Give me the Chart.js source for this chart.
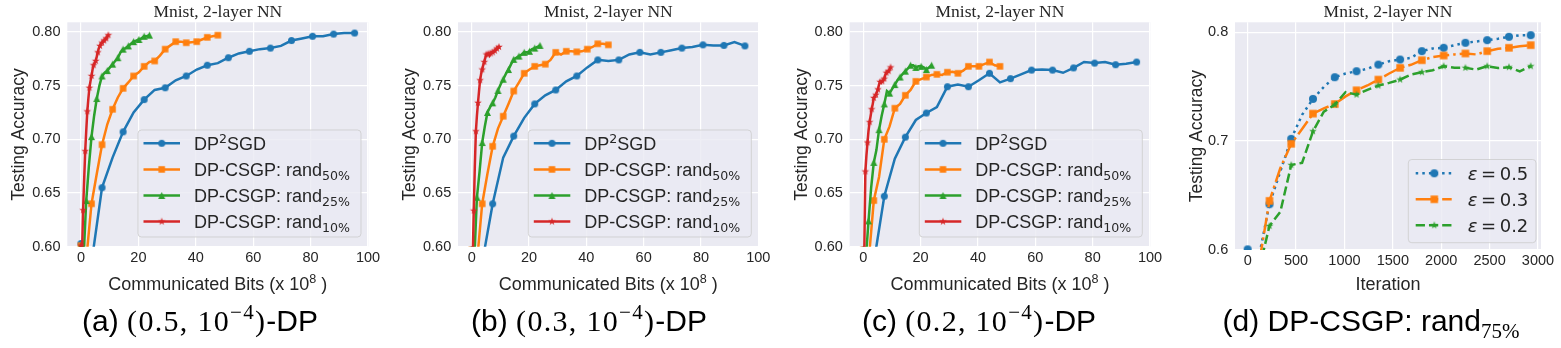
<!DOCTYPE html>
<html>
<head>
<meta charset="utf-8">
<script src="https://cdn.jsdelivr.net/npm/chart.js@4.4.1/dist/chart.umd.min.js"></script>
<style>
  html, body { margin: 0; padding: 0; background: #fff; }
  #fig { position: relative; width: 1561px; height: 348px; }
  #fig canvas { position: absolute; top: 0; }
</style>
</head>
<body>
<div id="fig">
  <canvas id="pa" width="390" height="348" style="left:0"></canvas>
  <canvas id="pb" width="390" height="348" style="left:390px"></canvas>
  <canvas id="pc" width="390" height="348" style="left:780px"></canvas>
  <canvas id="pd" width="391" height="348" style="left:1170px"></canvas>
</div>
<script>
// communicated bits (x 10^8) at each logged step, per compression level
const bitsFull = [0, 3.67, 7.33, 11, 14.67, 18.33, 22, 25.67, 29.33, 33, 36.67, 40.33, 44, 47.67, 51.33, 55, 58.67, 62.33, 66, 69.67, 73.33, 77, 80.67, 84.33, 88, 91.67, 95.33];
const bitsHalf = [0, 1.83, 3.67, 5.5, 7.33, 9.17, 11, 12.83, 14.67, 16.5, 18.33, 20.17, 22, 23.83, 25.67, 27.5, 29.33, 31.17, 33, 34.83, 36.67, 38.5, 40.33, 42.17, 44, 45.83, 47.67];
const bitsQuarter = [0, 0.92, 1.83, 2.75, 3.67, 4.58, 5.5, 6.42, 7.33, 8.25, 9.17, 10.08, 11, 11.92, 12.83, 13.75, 14.67, 15.58, 16.5, 17.42, 18.33, 19.25, 20.17, 21.08, 22, 22.92, 23.83];
const bitsTenth = [0, 0.37, 0.73, 1.1, 1.47, 1.83, 2.2, 2.57, 2.93, 3.3, 3.67, 4.03, 4.4, 4.77, 5.13, 5.5, 5.87, 6.23, 6.6, 6.97, 7.33, 7.7, 8.07, 8.43, 8.8, 9.17, 9.53];
const iterations = [0, 112, 225, 337, 450, 562, 675, 787, 900, 1012, 1125, 1237, 1350, 1462, 1575, 1687, 1800, 1912, 2025, 2137, 2250, 2362, 2475, 2587, 2700, 2812, 2925];

// testing accuracy, (0.5, 1e-4)-DP
const sgdA = [0.603, 0.585, 0.655, 0.683, 0.707, 0.725, 0.737, 0.746, 0.748, 0.755, 0.759, 0.765, 0.769, 0.771, 0.776, 0.780, 0.782, 0.784, 0.785, 0.787, 0.792, 0.794, 0.796, 0.796, 0.798, 0.799, 0.799];
const rand50A = [0.601, 0.588, 0.640, 0.668, 0.695, 0.714, 0.728, 0.739, 0.7475, 0.753, 0.759, 0.7625, 0.768, 0.772, 0.773, 0.778, 0.784, 0.7875, 0.791, 0.791, 0.790, 0.7905, 0.791, 0.793, 0.795, 0.796, 0.797];
const rand25A = [0.601, 0.590, 0.643, 0.675, 0.7025, 0.722, 0.738, 0.750, 0.759, 0.762, 0.764, 0.767, 0.770, 0.773, 0.776, 0.781, 0.784, 0.785, 0.787, 0.789, 0.791, 0.792, 0.793, 0.794, 0.796, 0.796, 0.797];
const rand10A = [0.601, 0.595, 0.634, 0.662, 0.689, 0.708, 0.726, 0.738, 0.748, 0.754, 0.759, 0.765, 0.769, 0.771, 0.773, 0.777, 0.781, 0.785, 0.787, 0.789, 0.790, 0.791, 0.792, 0.793, 0.794, 0.796, 0.797];

// testing accuracy, (0.3, 1e-4)-DP
const sgdB = [0.597, 0.585, 0.640, 0.683, 0.703, 0.720, 0.733, 0.741, 0.746, 0.754, 0.759, 0.767, 0.774, 0.773, 0.774, 0.779, 0.781, 0.779, 0.781, 0.783, 0.785, 0.786, 0.788, 0.7875, 0.7875, 0.7905, 0.787];
const rand50B = [0.597, 0.585, 0.640, 0.668, 0.6935, 0.710, 0.7215, 0.733, 0.745, 0.753, 0.7615, 0.765, 0.768, 0.769, 0.770, 0.774, 0.781, 0.779, 0.782, 0.782, 0.7815, 0.782, 0.784, 0.786, 0.789, 0.789, 0.788];
const rand25B = [0.597, 0.588, 0.646, 0.670, 0.697, 0.712, 0.725, 0.730, 0.734, 0.739, 0.7455, 0.751, 0.756, 0.761, 0.765, 0.770, 0.7745, 0.776, 0.7775, 0.779, 0.781, 0.781, 0.782, 0.784, 0.785, 0.786, 0.7875];
const rand10B = [0.597, 0.590, 0.6335, 0.675, 0.7075, 0.722, 0.734, 0.745, 0.755, 0.761, 0.765, 0.769, 0.772, 0.776, 0.779, 0.7795, 0.7797, 0.778, 0.780, 0.781, 0.781, 0.7815, 0.7825, 0.7835, 0.7845, 0.785, 0.786];

// testing accuracy, (0.2, 1e-4)-DP
const sgdC = [0.597, 0.585, 0.647, 0.682, 0.702, 0.718, 0.7245, 0.730, 0.749, 0.751, 0.749, 0.755, 0.7615, 0.753, 0.7565, 0.7605, 0.7645, 0.765, 0.7645, 0.762, 0.7665, 0.772, 0.771, 0.772, 0.7695, 0.7705, 0.772];
const rand50C = [0.597, 0.585, 0.643, 0.665, 0.700, 0.712, 0.729, 0.733, 0.741, 0.746, 0.754, 0.756, 0.758, 0.760, 0.7605, 0.760, 0.7625, 0.763, 0.7615, 0.764, 0.768, 0.768, 0.768, 0.770, 0.772, 0.769, 0.768];
const rand25C = [0.597, 0.590, 0.624, 0.655, 0.6785, 0.690, 0.709, 0.722, 0.733, 0.745, 0.743, 0.747, 0.751, 0.755, 0.758, 0.761, 0.7635, 0.766, 0.769, 0.769, 0.767, 0.768, 0.768, 0.767, 0.765, 0.767, 0.769];
const rand10C = [0.597, 0.600, 0.670, 0.685, 0.697, 0.708, 0.716, 0.722, 0.728, 0.733, 0.7385, 0.740, 0.7415, 0.744, 0.7465, 0.751, 0.7535, 0.753, 0.754, 0.755, 0.7565, 0.760, 0.762, 0.763, 0.7635, 0.765, 0.767];

// DP-CSGP rand75%, accuracy per iteration for each epsilon
const eps05 = [0.6006, 0.592, 0.642, 0.672, 0.702, 0.724, 0.7387, 0.7497, 0.7586, 0.762, 0.7641, 0.7663, 0.7702, 0.7733, 0.7748, 0.7764, 0.7825, 0.785, 0.7856, 0.788, 0.7902, 0.7914, 0.7926, 0.7939, 0.7957, 0.797, 0.7972];
const eps03 = [0.570, 0.585, 0.6451, 0.675, 0.6975, 0.711, 0.7252, 0.730, 0.734, 0.741, 0.7466, 0.751, 0.7564, 0.762, 0.7672, 0.770, 0.7742, 0.777, 0.7785, 0.7795, 0.7804, 0.7795, 0.7825, 0.7847, 0.7856, 0.787, 0.788];
const eps02 = [0.560, 0.580, 0.622, 0.635, 0.678, 0.680, 0.709, 0.727, 0.7334, 0.745, 0.7426, 0.747, 0.7509, 0.7534, 0.7564, 0.761, 0.7632, 0.765, 0.7687, 0.7672, 0.7672, 0.7656, 0.7687, 0.767, 0.7678, 0.764, 0.7687];

const bitsTicks = [0, 20, 40, 60, 80, 100];
const accTicks = [0.60, 0.65, 0.70, 0.75, 0.80];
const iterTicks = [0, 500, 1000, 1500, 2000, 2500, 3000];
const accTicksD = [0.6, 0.7, 0.8];

const BLUE = '#1f77b4', ORANGE = '#ff7f0e', GREEN = '#2ca02c', RED = '#d62728';
const INK = '#262626';
const SANS = '"Liberation Sans", Arial, sans-serif';
const SERIF = '"Liberation Serif", "Times New Roman", serif';
const MATH = '"DejaVu Sans", sans-serif';

// matplotlib-like filled markers, pre-rendered so lines and legend share them
function markerImage(kind, color, d) {
  const s = Math.ceil(d) + 4;
  const c = document.createElement('canvas');
  c.width = c.height = s;
  const g = c.getContext('2d');
  const m = s / 2, r = d / 2;
  g.fillStyle = color;
  g.beginPath();
  if (kind === 'circle') {
    g.arc(m, m, r, 0, Math.PI * 2);
  } else if (kind === 'square') {
    g.rect(m - r, m - r, d, d);
  } else if (kind === 'triangle') {
    g.moveTo(m, m - r);
    g.lineTo(m + r, m + r);
    g.lineTo(m - r, m + r);
  } else {
    for (let i = 0; i < 10; i++) {
      const rad = i % 2 ? r * 0.4 : r;
      const a = -Math.PI / 2 + i * Math.PI / 5;
      g.lineTo(m + rad * Math.cos(a), m + rad * Math.sin(a));
    }
  }
  g.closePath();
  g.fill();
  return c;
}

// text runs with super/subscripts: [text, family, 'sup'|'sub'|'it', extra spacing per glyph]
function drawRich(ctx, parts, x, y, size, align) {
  let total = 0;
  const runs = parts.map(([t, fam, kind, ls = 0]) => {
    const small = kind === 'sup' || kind === 'sub';
    const s = small ? size * 0.7 : size;
    const font = (kind === 'it' ? 'italic ' : '') + s + 'px ' + fam;
    ctx.font = font;
    const w = ls ? [...t].reduce((acc, ch) => acc + ctx.measureText(ch).width + ls, 0) : ctx.measureText(t).width;
    total += w;
    const dy = kind === 'sup' ? -size * 0.4 : kind === 'sub' ? size * 0.24 : 0;
    return { t, font, w, dy, ls };
  });
  let cx = align === 'center' ? x - total / 2 : x;
  ctx.textAlign = 'left';
  ctx.textBaseline = 'alphabetic';
  runs.forEach(r => {
    ctx.font = r.font;
    if (r.ls) {
      let px = cx;
      for (const ch of r.t) {
        ctx.fillText(ch, px, y + r.dy);
        px += ctx.measureText(ch).width + r.ls;
      }
    } else {
      ctx.fillText(r.t, cx, y + r.dy);
    }
    cx += r.w;
  });
}

const methods = [
  { label: [['DP', SANS], ['2', MATH, 'sup'], ['SGD', SANS]], color: BLUE, img: markerImage('circle', BLUE, 7) },
  { label: [['DP-CSGP: rand', SANS], ['50%', MATH, 'sub']], color: ORANGE, img: markerImage('square', ORANGE, 6.5) },
  { label: [['DP-CSGP: rand', SANS], ['25%', MATH, 'sub']], color: GREEN, img: markerImage('triangle', GREEN, 7) },
  { label: [['DP-CSGP: rand', SANS], ['10%', MATH, 'sub']], color: RED, img: markerImage('star', RED, 8) }
];
const bitsX = [bitsFull, bitsHalf, bitsQuarter, bitsTenth];

function bitsSeries(ys) {
  return methods.map((m, i) => ({ ...m, xs: bitsX[i], ys: ys[i], dash: [] }));
}

function dpCaption(tag, eps) {
  return [['(' + tag + ') ', SANS], ['(' + eps + ', 10', SERIF, '', 1.3], ['\u22124', SERIF, 'sup', 1.3], [')', SERIF, '', 1.3], ['-DP', SANS]];
}

const bitsLegend = { w: 223, h: 107, row0: 13.3, rowGap: 26.1, lineX0: 5.5, lineX1: 42, markX: 23.7, textX: 56 };
const xTitleBits = [['Communicated Bits (x 10', SANS], ['8', SANS, 'sup'], [' )', SANS]];

const panels = {
  pa: {
    area: { left: 67.3, top: 22.3, right: 368.3, bottom: 246.7 },
    xRange: [-4.77, 100.1], yRange: [0.6, 0.809], xTicks: bitsTicks, yTicks: accTicks, yDigits: 2,
    series: bitsSeries([sgdA, rand50A, rand25A, rand10A]),
    legend: { ...bitsLegend, x: 138, y: 130 },
    yTitleX: 19, xTitle: xTitleBits,
    caption: dpCaption('a', '0.5'), capX: 200
  },
  pb: {
    area: { left: 68, top: 22.3, right: 368.6, bottom: 246.7 },
    xRange: [-4.77, 100.1], yRange: [0.6, 0.809], xTicks: bitsTicks, yTicks: accTicks, yDigits: 2,
    series: bitsSeries([sgdB, rand50B, rand25B, rand10B]),
    legend: { ...bitsLegend, x: 138.3, y: 130 },
    yTitleX: 20, xTitle: xTitleBits,
    caption: dpCaption('b', '0.3'), capX: 199
  },
  pc: {
    area: { left: 69.6, top: 22.3, right: 370.3, bottom: 246.7 },
    xRange: [-4.77, 100.1], yRange: [0.6, 0.809], xTicks: bitsTicks, yTicks: accTicks, yDigits: 2,
    series: bitsSeries([sgdC, rand50C, rand25C, rand10C]),
    legend: { ...bitsLegend, x: 139.3, y: 130 },
    yTitleX: 21.7, xTitle: xTitleBits,
    caption: dpCaption('c', '0.2'), capX: 199
  },
  pd: {
    area: { left: 65, top: 22.3, right: 371, bottom: 250 },
    xRange: [-131, 3031], yRange: [0.6, 0.809], xTicks: iterTicks, yTicks: accTicksD, yDigits: 1,
    series: [
      { label: [['\u03b5', MATH, 'it'], ['\u2009=\u20090.5', MATH]], color: BLUE, xs: iterations, ys: eps05, dash: [2.5, 4.1], img: markerImage('circle', BLUE, 8) },
      { label: [['\u03b5', MATH, 'it'], ['\u2009=\u20090.3', MATH]], color: ORANGE, xs: iterations, ys: eps03, dash: [16, 4, 2.5, 4], img: markerImage('square', ORANGE, 7.5) },
      { label: [['\u03b5', MATH, 'it'], ['\u2009=\u20090.2', MATH]], color: GREEN, xs: iterations, ys: eps02, dash: [9.25, 4], img: markerImage('star', GREEN, 8) }
    ],
    legend: { x: 238.3, y: 159.5, w: 127.7, h: 83.2, row0: 13.8, rowGap: 26, lineX0: 7.4, lineX1: 43.4, markX: 26, textX: 59.4 },
    yTitleX: 26.7, xTitle: [['Iteration', SANS]],
    caption: [['(d) DP-CSGP: rand', SANS], ['75%', SERIF, 'sub']], capX: 201
  }
};

function roundRect(ctx, x, y, w, h, r) {
  ctx.beginPath();
  ctx.moveTo(x + r, y);
  ctx.arcTo(x + w, y, x + w, y + h, r);
  ctx.arcTo(x + w, y + h, x, y + h, r);
  ctx.arcTo(x, y + h, x, y, r);
  ctx.arcTo(x, y, x + w, y, r);
  ctx.closePath();
}

const decor = {
  id: 'decor',
  beforeDraw(chart) {
    const { ctx, chartArea: a } = chart;
    ctx.save();
    ctx.fillStyle = '#eaeaf2';
    ctx.fillRect(a.left, a.top, a.right - a.left, a.bottom - a.top);
    ctx.restore();
  },
  afterDraw(chart) {
    const p = panels[chart.canvas.id];
    const { ctx, chartArea: a } = chart;
    const cx = (a.left + a.right) / 2;
    ctx.save();

    // legend
    const lg = p.legend;
    roundRect(ctx, lg.x, lg.y, lg.w, lg.h, 3.5);
    ctx.fillStyle = 'rgba(234,234,242,0.8)';
    ctx.fill();
    ctx.strokeStyle = 'rgba(204,204,204,0.8)';
    ctx.lineWidth = 1;
    ctx.stroke();
    p.series.forEach((s, i) => {
      const ry = lg.y + lg.row0 + i * lg.rowGap;
      ctx.beginPath();
      ctx.setLineDash(s.dash);
      ctx.lineCap = 'butt';
      ctx.strokeStyle = s.color;
      ctx.lineWidth = 2.5;
      ctx.moveTo(lg.x + lg.lineX0, ry);
      ctx.lineTo(lg.x + lg.lineX1, ry);
      ctx.stroke();
      ctx.setLineDash([]);
      ctx.drawImage(s.img, lg.x + lg.markX - s.img.width / 2, ry - s.img.height / 2);
      ctx.fillStyle = INK;
      drawRich(ctx, s.label, lg.x + lg.textX, ry + 6.4, 18, 'left');
    });

    // panel title
    ctx.fillStyle = INK;
    drawRich(ctx, [['Mnist, 2-layer NN', SERIF]], cx, 16.5, 17.5, 'center');

    // axis titles
    drawRich(ctx, p.xTitle, cx, 290, 18, 'center');
    ctx.save();
    ctx.translate(p.yTitleX, (a.top + a.bottom) / 2);
    ctx.rotate(-Math.PI / 2);
    ctx.font = '17.5px ' + SANS;
    ctx.textAlign = 'center';
    ctx.textBaseline = 'middle';
    ctx.fillText('Testing Accuracy', 0, 0);
    ctx.restore();

    // subfigure caption
    ctx.fillStyle = '#000';
    drawRich(ctx, p.caption, p.capX, 331, 30, 'center');
    ctx.restore();
  }
};

function buildPanel(id) {
  const p = panels[id];
  const canvas = document.getElementById(id);
  const W = canvas.width, H = canvas.height, a = p.area;
  const xAxisH = 30;
  const n = p.series.length;
  const tickFont = { family: SANS, size: 14.5 };
  return new Chart(canvas, {
    type: 'line',
    data: {
      datasets: p.series.map((s, i) => ({
        data: s.xs.map((x, j) => ({ x, y: s.ys[j] })),
        borderColor: s.color,
        backgroundColor: s.color,
        borderWidth: 2.5,
        borderDash: s.dash,
        borderCapStyle: 'butt',
        tension: 0,
        pointStyle: s.img,
        pointRadius: ctx => (ctx.dataIndex % 2 === 0 ? 4 : 0),
        pointHoverRadius: 0,
        pointBorderWidth: 0,
        clip: 0,
        order: n - i
      }))
    },
    options: {
      responsive: false,
      animation: false,
      devicePixelRatio: 1,
      events: [],
      layout: { padding: { left: 0, top: a.top, right: W - a.right, bottom: H - a.bottom - xAxisH } },
      plugins: { legend: { display: false }, tooltip: { enabled: false }, title: { display: false } },
      scales: {
        x: {
          type: 'linear',
          min: p.xRange[0],
          max: p.xRange[1],
          afterFit: s => { s.height = xAxisH; },
          afterBuildTicks: s => { s.ticks = p.xTicks.map(v => ({ value: v })); },
          grid: { color: '#ffffff', lineWidth: 1.2, drawTicks: false },
          border: { display: false },
          ticks: { padding: 2.5, color: INK, font: tickFont, maxRotation: 0, autoSkip: false, callback: v => String(v) }
        },
        y: {
          type: 'linear',
          min: p.yRange[0],
          max: p.yRange[1],
          afterFit: s => { s.width = a.left; },
          afterBuildTicks: s => { s.ticks = p.yTicks.map(v => ({ value: v })); },
          grid: { color: '#ffffff', lineWidth: 1.2, drawTicks: false },
          border: { display: false },
          ticks: { padding: 6.8, color: INK, font: tickFont, autoSkip: false, callback: v => v.toFixed(p.yDigits) }
        }
      }
    },
    plugins: [decor]
  });
}

['pa', 'pb', 'pc', 'pd'].forEach(buildPanel);
</script>
</body>
</html>
